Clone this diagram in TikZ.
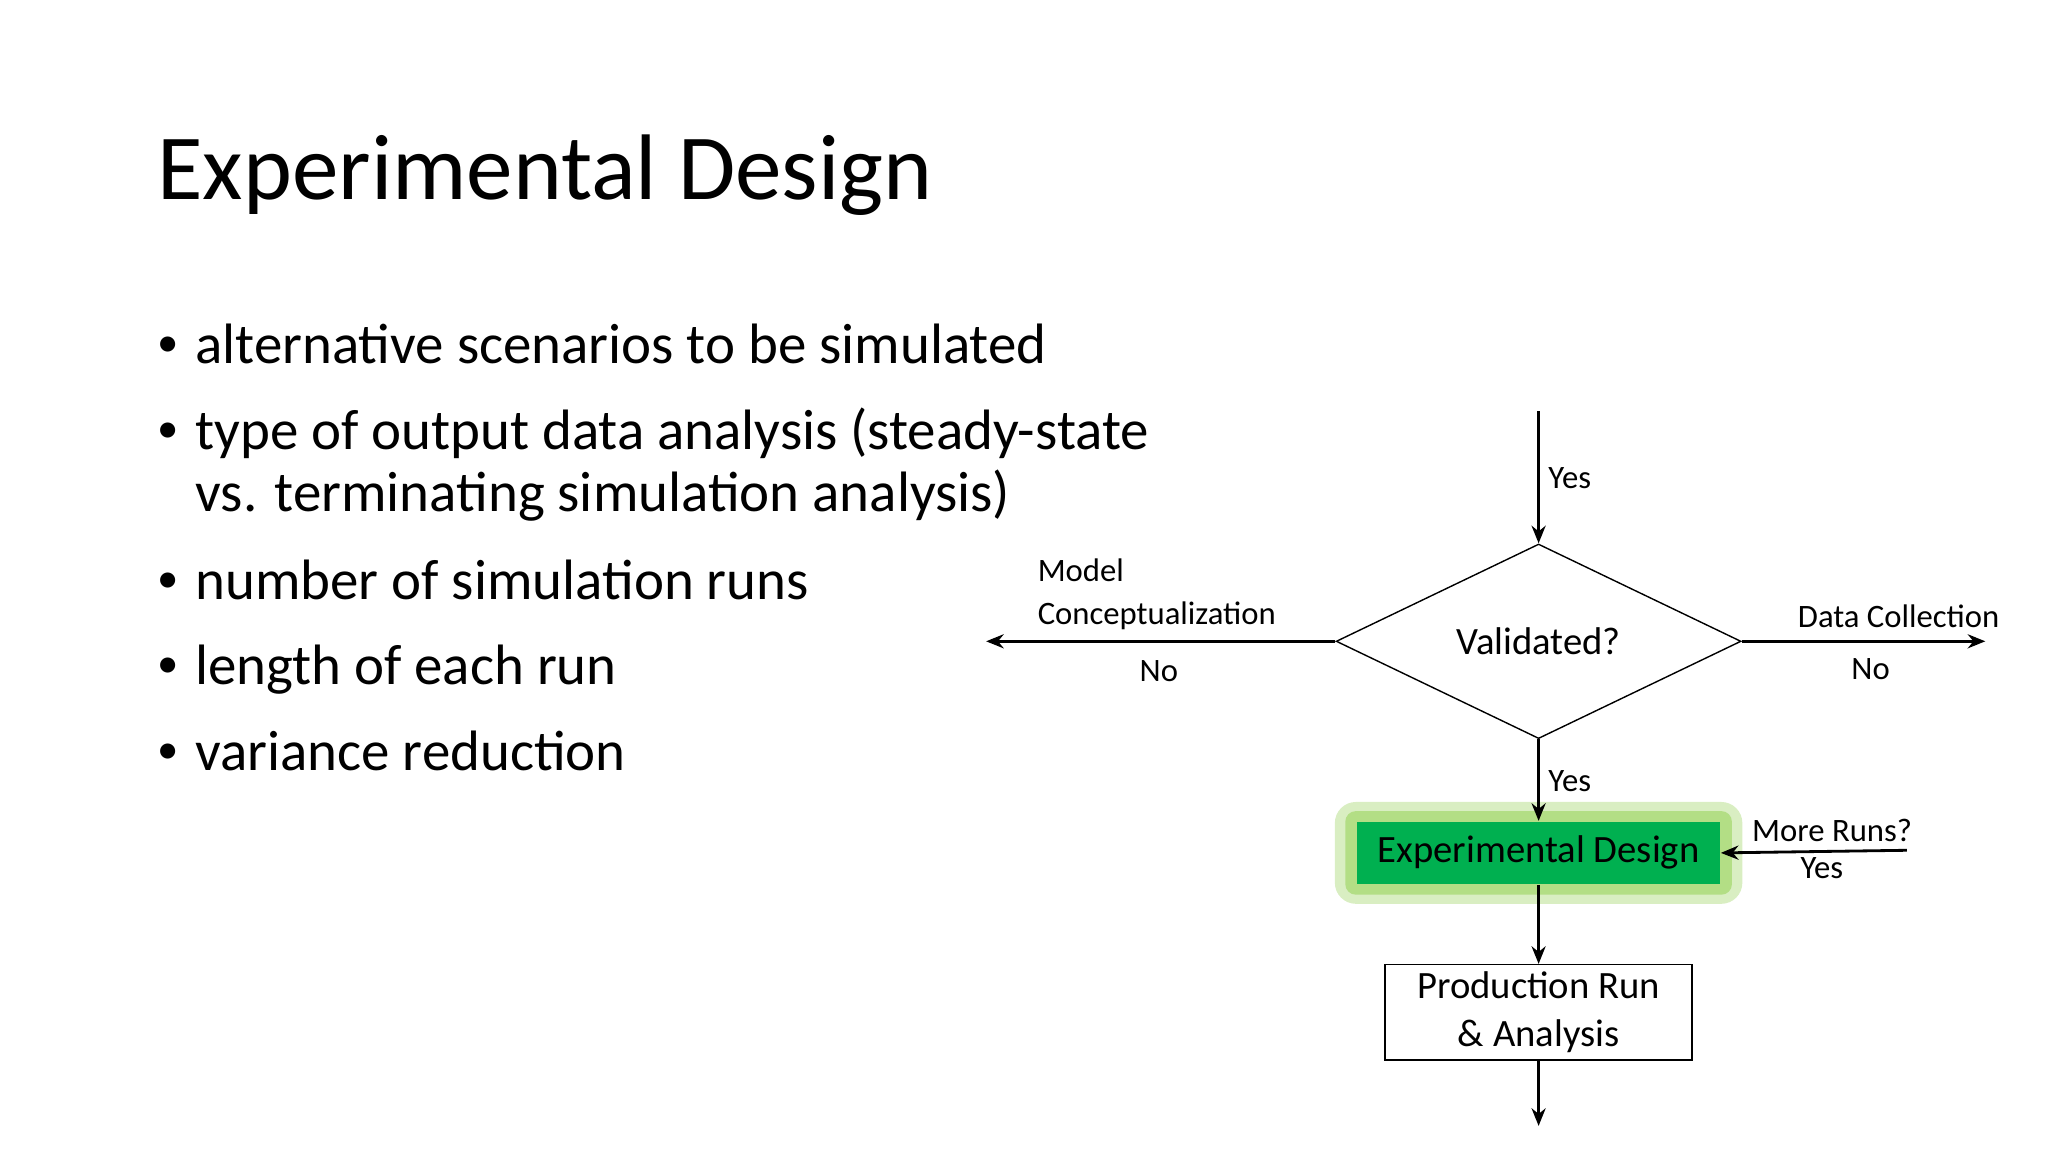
\documentclass[tikz,border=0pt]{standalone}
\usepackage{fontspec}
\setmainfont{Carlito}
\usetikzlibrary{shapes.geometric,arrows.meta}
\definecolor{boxgreen}{RGB}{0,176,80}
\definecolor{glow}{RGB}{146,208,80}
\newcommand{\bulmark}{\makebox[29\dimexpr 0.3716pt\relax][l]{\raisebox{0.12em}{\scalebox{0.75}{•}}}}
\begin{document}
\begin{tikzpicture}[x=0.01306cm,y=-0.01306cm,
  arr/.style={-{Stealth[length=5pt,width=4pt]},thick},
  lbl/.style={font=\fontsize{9.3pt}{11pt}\selectfont,inner sep=0pt,anchor=west},
  bul/.style={font=\fontsize{16.2pt}{20pt}\selectfont,anchor=base west,inner sep=0pt,align=left}]
\useasboundingbox (0,0) rectangle (1568,882);
% title and bullets
\node[anchor=base west,inner sep=0pt,font=\fontsize{26.5pt}{32pt}\selectfont] (title) at (120,153) {Experimental Design};
\node[bul] (b1) at (120,278) {\bulmark alternative scenarios to be simulated};
\node[bul] (b2) at (120,344) {\bulmark type of output data analysis (steady-state};
\node[bul] (b2b) at (149,392) {vs. terminating simulation analysis)};
\node[bul] (b3) at (120,459) {\bulmark number of simulation runs};
\node[bul] (b4) at (120,524) {\bulmark length of each run};
\node[bul] (b5) at (120,590) {\bulmark variance reduction};
% flowchart
\node[diamond,draw,thin,minimum width=310*0.01306cm,minimum height=149*0.01306cm,aspect=2.08,inner sep=0pt,
  font=\fontsize{11pt}{13pt}\selectfont] (val) at (1178,491) {Validated?};
\fill[glow!35,rounded corners=6pt] (1022,614) rectangle (1334,692);
\fill[glow!70,rounded corners=3pt] (1030,621) rectangle (1326,685);
\node[fill=boxgreen,minimum width=278*0.01306cm,minimum height=48*0.01306cm,
  font=\fontsize{11pt}{13pt}\selectfont,inner sep=0pt] (exp) at (1178,653) {Experimental Design};
\node[draw,thin,minimum width=235*0.01306cm,minimum height=73*0.01306cm,align=center,
  font=\fontsize{11pt}{13.5pt}\selectfont,inner sep=0pt] (prod) at (1178,775) {Production Run\\\& Analysis};
\coordinate (top) at (1178,315);
\coordinate (lft) at (755,491);
\coordinate (rgt) at (1520,491);
\coordinate (more) at (1460,651);
\coordinate (bot) at (1178,862);
\draw[arr] (top) -- (val.north);
\draw[arr] (val.west) -- (lft);
\draw[arr] (val.east) -- (rgt);
\draw[arr] (val.south) -- (exp.north);
\draw[arr] (more) -- (exp.east);
\draw[arr] (exp.south) -- (prod.north);
\draw[arr] (prod.south) -- (bot);
% labels
\node[lbl] (y1) at (1185,366) {Yes};
\node[lbl,align=left] (mc) at (794,455) {Model\\[1pt]Conceptualization};
\node[lbl] (n1) at (872,514) {No};
\node[lbl] (dc) at (1376,472) {Data Collection};
\node[lbl] (n2) at (1417,512) {No};
\node[lbl] (y2) at (1185,598) {Yes};
\node[lbl] (mr) at (1341,636) {More Runs?};
\node[lbl] (y3) at (1378,665) {Yes};
\end{tikzpicture}
\end{document}
